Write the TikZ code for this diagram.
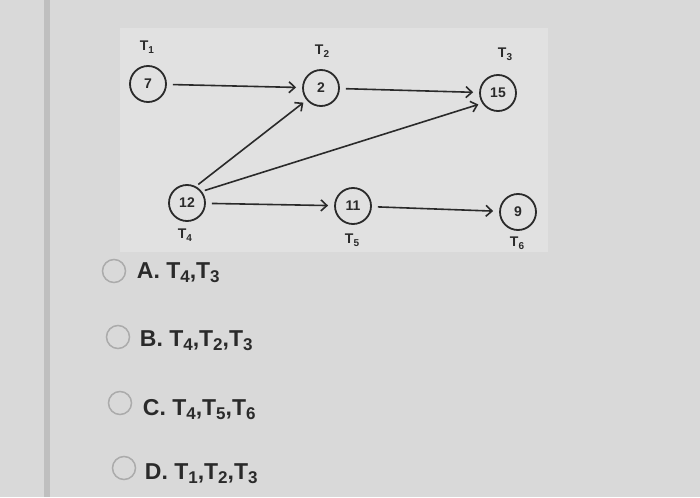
\documentclass[tikz,border=0pt]{standalone}
\usepackage{fontspec}
\setmainfont{Liberation Sans}
\usetikzlibrary{arrows.meta}

\definecolor{ink}{HTML}{2A2A2A}
\definecolor{screen}{HTML}{D9D9D9}
\definecolor{panel}{HTML}{E1E1E1}
\definecolor{radio}{HTML}{ABABAB}

% T with a lowered index, size of the index as first argument
\newcommand{\tn}[2]{T\raisebox{-0.35ex}{\fontsize{#1}{#1}\selectfont #2}}

\begin{document}
\begin{tikzpicture}[x=1pt, y=-1pt, line width=1.8pt,
  task/.style={circle, draw=ink, line width=1.8pt, minimum size=36pt, inner sep=0pt,
    font=\bfseries\fontsize{14}{14}\selectfont, text=ink},
  flow/.style={draw=ink, line width=1.6pt, -{Straight Barb[length=6pt,width=11pt]},
    shorten <=6pt, shorten >=6pt},
  tlabel/.style={font=\bfseries\fontsize{14}{14}\selectfont, text=ink},
  choice/.style={anchor=base west, inner sep=0pt, font=\bfseries\fontsize{23}{23}\selectfont, text=ink},
  radio/.style={circle, draw=radio, line width=1.5pt, minimum size=23pt, inner sep=0pt}]

  \useasboundingbox (0,0) rectangle (700,497);
  \fill[screen] (0,0) rectangle (700,497);
  \fill[panel] (120,28) rectangle (548,252);
  \fill[black!25] (44,0) rectangle (50,497);

  \begin{scope}

  \draw (148,84) node[task, name=t1] {7};
  \draw (321,88) node[task, name=t2] {2};
  \draw (498,93) node[task, name=t3] {15};
  \draw (187,203) node[task, name=t4] {12};
  \draw (353,206) node[task, name=t5] {11};
  \draw (518,212) node[task, name=t6] {9};

  \draw (147,47) node[tlabel, name=l1] {\tn{10}{1}};
  \draw (322,51) node[tlabel, name=l2] {\tn{10}{2}};
  \draw (505,54) node[tlabel, name=l3] {\tn{10}{3}};
  \draw (185,235) node[tlabel, name=l4] {\tn{10}{4}};
  \draw (352,240) node[tlabel, name=l5] {\tn{10}{5}};
  \draw (517,243) node[tlabel, name=l6] {\tn{10}{6}};

  \draw [flow] (t1) -- (t2);
  \draw [flow] (t2) -- (t3);
  \draw [flow, shorten <=3pt, shorten >=4pt] (t4.62) -- (t2.220);
  \draw [flow, shorten <=3pt, shorten >=4pt] (t4.38) -- (t3.213);
  \draw [flow] (t4) -- (t5);
  \draw [flow] (t5) -- (t6);

  \end{scope}

  \begin{scope}

  \draw (114,271) node[radio, name=ra] {};
  \draw (118,337) node[radio, name=rb] {};
  \draw (120,403) node[radio, name=rc] {};
  \draw (124,468) node[radio, name=rd] {};

  \draw (136,278) node[choice, name=ca] {A. \tn{17}{4},\tn{17}{3}};
  \draw (139,346) node[choice, name=cb] {B. \tn{17}{4},\tn{17}{2},\tn{17}{3}};
  \draw (142,415) node[choice, name=cc] {C. \tn{17}{4},\tn{17}{5},\tn{17}{6}};
  \draw (144,479) node[choice, name=cd] {D. \tn{17}{1},\tn{17}{2},\tn{17}{3}};

  \end{scope}

\end{tikzpicture}
\end{document}
